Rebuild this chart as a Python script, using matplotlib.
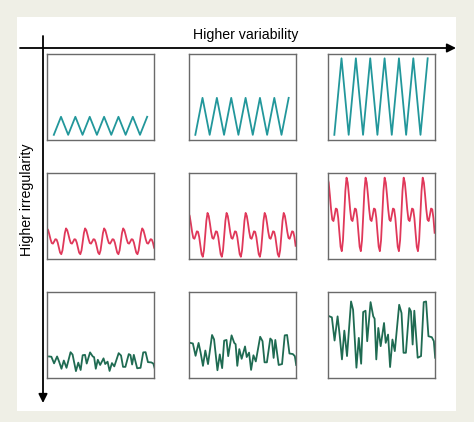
import matplotlib
matplotlib.use("Agg")
import matplotlib.pyplot as plt
from matplotlib.patches import Rectangle
import numpy as np

# ---------------- data ----------------
x_label = "Higher variability"
y_label = "Higher irregularity"

# Row 1: regular triangle wave (vertices), normalised 0..1
tri_x = list(range(14))
tri_shape = [0, 1, 0, 1, 0, 1, 0, 1, 0, 1, 0, 1, 0, 1]
tri_base = [0.06, 0.06, 0.06]
tri_amp = [0.21, 0.43, 0.89]

# Row 2: periodic two-component wave, sampled (16 samples per period)
red_shape = [
    1.00, 0.93, 0.76, 0.57, 0.43, 0.41, 0.49, 0.58, 0.57, 0.45, 0.25, 0.06, 0.00, 0.15, 0.48, 0.82,
    1.00, 0.93, 0.76, 0.57, 0.43, 0.41, 0.49, 0.58, 0.57, 0.45, 0.25, 0.06, 0.00, 0.15, 0.48, 0.82,
    1.00, 0.93, 0.76, 0.57, 0.43, 0.41, 0.49, 0.58, 0.57, 0.45, 0.25, 0.06, 0.00, 0.15, 0.48, 0.82,
    1.00, 0.93, 0.76, 0.57, 0.43, 0.41, 0.49, 0.58, 0.57, 0.45, 0.25, 0.06, 0.00, 0.15, 0.48, 0.82,
    1.00, 0.93, 0.76, 0.57, 0.43, 0.41, 0.49, 0.58, 0.57, 0.45, 0.25, 0.06, 0.00, 0.15, 0.48, 0.82,
    1.00, 0.93, 0.76, 0.57, 0.43, 0.41, 0.49, 0.58, 0.57, 0.45, 0.25,
]
red_base = [0.05, 0.02, 0.085]
red_amp = [0.30, 0.51, 0.855]

# Row 3: irregular signal (time, normalised value)
green_t = [6, 13, 21, 30, 36, 43, 50, 58, 70, 76, 86, 93, 100, 106, 113, 118, 128,
           136, 140, 145, 151, 158, 168, 173, 180, 186, 193, 200, 213, 220, 226, 233,
           243, 248, 253, 258, 268, 278, 286, 293, 300, 310, 316, 320]
green_shape = [0.775, 0.76, 0.41, 0.775, 0.50, 0.125, 0.56, 0.175, 1.00, 0.875, 0.00,
               0.45, 0.06, 0.84, 0.86, 0.40, 0.99, 0.775, 0.74, 0.125, 0.60, 0.325,
               0.675, 0.375, 0.50, 0.01, 0.425, 0.25, 0.95, 0.825, 0.225, 0.225, 0.90,
               0.85, 0.35, 0.86, 0.15, 0.175, 0.99, 1.00, 0.475, 0.46, 0.40, 0.15]
green_base = [0.08, 0.09, 0.12]
green_amp = [0.22, 0.41, 0.77]

# ---------------- styling ----------------
W, H = 474, 422
fig = plt.figure(figsize=(W / 100, H / 100), dpi=100)
fig.patch.set_facecolor("#efefe6")
plt.rcParams["font.family"] = ["Liberation Sans", "DejaVu Sans"]

teal = "#22979b"
red = "#e0385a"
green = "#1f6b52"
border = "#6a6a6a"

# overlay axes in pixel coordinates
ov = fig.add_axes([0, 0, 1, 1], zorder=0)
ov.set_xlim(0, W)
ov.set_ylim(H, 0)
ov.axis("off")
ov.add_patch(Rectangle((17, 17), 439, 394, facecolor="white", edgecolor="none"))
ov.annotate("", xy=(456, 48), xytext=(20, 48),
            arrowprops=dict(arrowstyle="-|>", lw=1.3, color="black",
                            mutation_scale=13, shrinkA=0, shrinkB=0))
ov.annotate("", xy=(43, 403), xytext=(43, 36),
            arrowprops=dict(arrowstyle="-|>", lw=1.3, color="black",
                            mutation_scale=13, shrinkA=0, shrinkB=0))
ov.text(246, 35, x_label, ha="center", va="center", fontsize=10.2)
ov.text(27, 200, y_label, ha="center", va="center", rotation=90, fontsize=10.2)

col_left = [47, 188.5, 327.5]
row_top = [54, 172.5, 292]
pw, ph = 107, 86


def panel(r, c):
    l = col_left[c]
    t = row_top[r]
    ax = fig.add_axes([l / W, 1 - (t + ph) / H, pw / W, ph / H], zorder=2)
    ax.set_xticks([])
    ax.set_yticks([])
    for s in ax.spines.values():
        s.set_color(border)
        s.set_linewidth(1.0)
    ax.set_ylim(0, 1)
    return ax


for c in range(3):
    ax = panel(0, c)
    ax.plot(tri_x, np.array(tri_shape) * tri_amp[c] + tri_base[c], color=teal, lw=1.3)
    ax.set_xlim(-0.95, 13.95)

    ax = panel(1, c)
    ax.plot(np.arange(len(red_shape)), np.array(red_shape) * red_amp[c] + red_base[c],
            color=red, lw=1.3)
    ax.set_xlim(0, 89.9)

    ax = panel(2, c)
    ax.plot(green_t, np.array(green_shape) * green_amp[c] + green_base[c], color=green, lw=1.3)
    ax.set_xlim(0, 318)

fig.savefig("out.png", dpi=100, facecolor=fig.get_facecolor())
